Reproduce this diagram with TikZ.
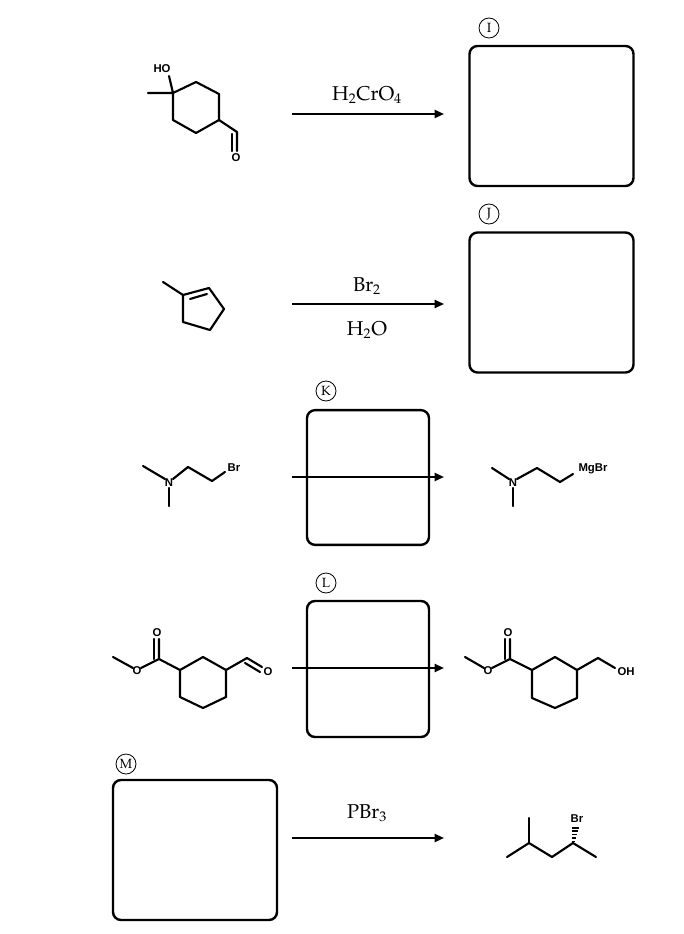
\documentclass[tikz,border=0pt]{standalone}
\usepackage{fontspec}
\setmainfont{TeX Gyre Pagella}
\newfontfamily\molfont{Liberation Sans}
\usetikzlibrary{arrows.meta,calc}
\begin{document}
\begin{tikzpicture}[x=0.75pt,y=-0.75pt,
  bond/.style={line width=1.6pt,line cap=round,line join=round},
  ansbox/.style={draw,line width=1.8pt,rounded corners=6pt},
  rxn/.style={line width=1.5pt,-{Triangle[length=7pt,width=6pt]}},
  reag/.style={font=\fontsize{15}{15}\selectfont,inner sep=1pt},
  atom/.style={font=\molfont\bfseries\fontsize{8.5}{9}\selectfont,inner sep=0.5pt},
  tag/.style={draw,circle,line width=0.6pt,minimum size=15pt,inner sep=0pt,font=\fontsize{10}{10}\selectfont}]
\useasboundingbox (0,0) rectangle (684,934);
% Row I
\draw[bond] (173,93)--(196,82)--(219,94)--(219,120)--(196,133)--(173,120)--cycle;
\draw[bond] (148,93)--(173,93)--(169,76);
\node[atom] (ho) at (162,69) {HO};
\draw[bond] (219,120)--(237,132)--(237,151);
\draw[bond] (232,134)--(232,151);
\node[atom] (o1) at (236,158) {O};
\draw[rxn] (292,114)--(444,114);
\node[reag] (r1) at (367,95) {H\textsubscript{2}CrO\textsubscript{4}};
\node[ansbox,minimum width=123pt,minimum height=105pt] (bI) at (551.5,116) {};
\node[tag] (tI) at (489,28) {I};
% Row J
\draw[bond] (183,295)--(209,288)--(224,309)--(210,330)--(183,322)--cycle;
\draw[bond] (190,299)--(207,294);
\draw[bond] (163,282)--(183,295);
\draw[rxn] (292,304)--(444,304);
\node[reag] (r2) at (367,286) {Br\textsubscript{2}};
\node[reag] (r3) at (367,330) {H\textsubscript{2}O};
\node[ansbox,minimum width=123pt,minimum height=105pt] (bJ) at (551.5,302.5) {};
\node[tag] (tJ) at (489,214) {J};
% Row K
\draw[bond] (143,466)--(165,479); \draw[bond] (173,479)--(188,467)--(212,481)--(225,472);
\draw[bond] (169,488)--(169,506);
\node[atom] (n1) at (169,483) {N};
\node[atom] (br1) at (234,468) {Br};
\node[ansbox,minimum width=91.5pt,minimum height=101pt] (bK) at (368,477.5) {};
\draw[rxn] (292,477)--(444,477);
\node[tag] (tK) at (326,391) {K};
\draw[bond] (492,468)--(509,479); \draw[bond] (517,479)--(537,468)--(560,482)--(573,474);
\draw[bond] (513,488)--(513,506);
\node[atom] (n2) at (513,483) {N};
\node[atom] (mg) at (593,469) {MgBr};
% Row L
\draw[bond] (113,657)--(133,668); \draw[bond] (141,668)--(159,659)--(159,639);
\draw[bond] (154,659)--(154,639);
\node[atom] (oe1) at (157,633) {O}; \node[atom] (oe2) at (137,671) {O};
\draw[bond] (159,659)--(180,670);
\draw[bond] (180,670)--(203,657)--(226,670)--(226,697)--(203,708)--(180,697)--cycle;
\draw[bond] (226,670)--(247,658)--(262,667); \draw[bond] (245,663)--(260,672);
\node[atom] (oa) at (268,672) {O};
\node[ansbox,minimum width=91.5pt,minimum height=102pt] (bL) at (368,669) {};
\draw[rxn] (292,668)--(444,668);
\node[tag] (tL) at (326,583) {L};
\draw[bond] (465,657)--(484,668); \draw[bond] (492,668)--(510,659)--(510,639);
\draw[bond] (505,659)--(505,639);
\node[atom] (oe3) at (508,633) {O}; \node[atom] (oe4) at (488,671) {O};
\draw[bond] (510,659)--(532,670);
\draw[bond] (532,670)--(555,657)--(577,670)--(577,698)--(555,708)--(532,698)--cycle;
\draw[bond] (577,670)--(598,658)--(615,668);
\node[atom] (oh) at (626,672) {OH};
% Row M
\node[ansbox,minimum width=123pt,minimum height=105pt] (bM) at (195,850) {};
\node[tag] (tM) at (126,764) {M};
\draw[rxn] (292,838)--(444,838);
\node[reag] (r4) at (367,813) {PBr\textsubscript{3}};
\draw[bond] (507,857)--(529,843)--(552,857)--(573,843)--(596,857);
\draw[bond] (529,843)--(529,818);
\foreach \t in {0.1,0.3,0.5,0.7,0.9}
  \draw[line width=1.2pt] ($(573,843)!\t!(576,826)+(-1-\t*3,0)$) -- ($(573,843)!\t!(576,826)+(1+\t*3,0)$);
\node[atom] (br2) at (577,819) {Br};
\end{tikzpicture}
\end{document}
